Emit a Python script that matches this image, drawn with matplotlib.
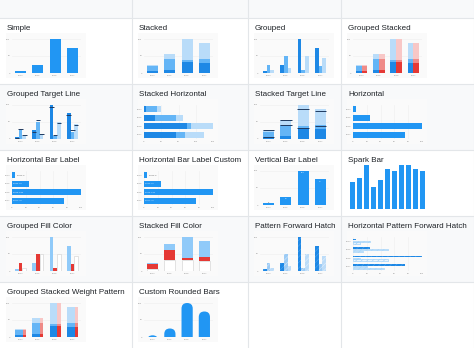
import numpy as np
import matplotlib.pyplot as plt
from matplotlib.patches import Rectangle, FancyBboxPatch
from matplotlib.lines import Line2D

plt.rcParams['font.family'] = ['Liberation Sans', 'DejaVu Sans']
plt.rcParams['hatch.linewidth'] = 0.4

W, H = 474, 348

# data
years = ['2014', '2015', '2016', '2017']
simple = [5, 25, 100, 75]
series_a = [5, 25, 100, 75]
series_b = [25, 50, 10, 20]
series_c = [10, 15, 50, 45]
fill_c = [10, 50, 50, 45]
spark = [62, 70, 100, 50, 65, 90, 87, 100, 100, 90, 86]
tgt_a = [3, 22, 95, 72]
tgt_b = [30, 55, 12, 25]
tgt_c = [12, 15, 48, 40]
stack_tgt_hi = [42, 90, 142, 131]
stack_tgt_lo = [10, 64, 52, 59]

titles = [
    ['Simple', 'Stacked', 'Grouped', 'Grouped Stacked'],
    ['Grouped Target Line', 'Stacked Horizontal', 'Stacked Target Line', 'Horizontal'],
    ['Horizontal Bar Label', 'Horizontal Bar Label Custom', 'Vertical Bar Label', 'Spark Bar'],
    ['Grouped Fill Color', 'Stacked Fill Color', 'Pattern Forward Hatch',
     'Horizontal Pattern Forward Hatch'],
    ['Grouped Stacked Weight Pattern', 'Custom Rounded Bars'],
]

# colours
BLUE = '#2196f3'
B_DARK, B_MID, B_LIGHT = '#1e88e5', '#64b5f6', '#b9dcf9'
R_DARK, R_MID, R_LIGHT = '#e53935', '#ef8a87', '#f8c7c6'
FILL_BLUE = '#90caf9'
LINE_DARK = '#1f3a60'
TICK = '#8a8a8a'

col_x = [0, 132, 248, 341, 474]
row_y = [0, 18, 84, 150, 216, 282, 348]
STRIPE = '#f8f9fa'
RULE = '#e3e6e9'

fig = plt.figure(figsize=(W / 100, H / 100), dpi=100)
fig.patch.set_facecolor('white')


def frect(x, y, w, h):
    return [x / W, 1 - (y + h) / H, w / W, h / H]


# table background + rules
for i in range(len(row_y) - 1):
    if i % 2 == 0:
        fig.add_artist(Rectangle((0, 1 - row_y[i + 1] / H), 1, (row_y[i + 1] - row_y[i]) / H,
                                 transform=fig.transFigure, fc=STRIPE, ec='none', zorder=-3))
for y in row_y[1:-1]:
    fig.add_artist(Line2D([0, 1], [1 - y / H] * 2, transform=fig.transFigure,
                          color=RULE, lw=0.8, zorder=-2))
for x in col_x[1:-1] + [473.5]:
    fig.add_artist(Line2D([x / W] * 2, [0, 1], transform=fig.transFigure,
                          color=RULE, lw=0.8, zorder=-2))


def style(ax):
    ax.patch.set_alpha(0)
    for s in ax.spines.values():
        s.set_visible(False)
    ax.tick_params(length=0, pad=1.2, labelsize=1.7, labelcolor=TICK)
    ax.set_axisbelow(True)


def thumb(r, c, horizontal=False, vmax=100, nticks=3):
    x0 = col_x[c] + 6
    y0 = row_y[r + 1] + 15
    fig.add_artist(Rectangle((x0 / W, 1 - (y0 + 45) / H), 80 / W, 45 / H,
                             transform=fig.transFigure, fc='#fafafa', ec='none', zorder=-1))
    ax = fig.add_axes(frect(x0 + 6, y0 + 6, 69, 34))
    style(ax)
    if horizontal:
        ax.set_ylim(3.5, -0.5)
        ax.set_xlim(0, vmax)
        ax.set_xticks(np.linspace(0, vmax, nticks))
        ax.set_xticklabels([f'{v:g}' for v in np.linspace(0, vmax, nticks)])
        ax.set_yticks(range(4))
        ax.set_yticklabels(years)
        ax.grid(axis='x', color='#eeeeee', lw=0.4)
    else:
        ax.set_xlim(-0.5, 3.5)
        ax.set_ylim(0, vmax)
        ax.set_yticks(np.linspace(0, vmax, nticks))
        ax.set_yticklabels([f'{v:g}' for v in np.linspace(0, vmax, nticks)])
        ax.set_xticks(range(4))
        ax.set_xticklabels(years)
        ax.grid(axis='y', color='#eeeeee', lw=0.4)
        ax.axhline(0, color='#dddddd', lw=0.5)
    return ax


for r, row in enumerate(titles):
    for c, t in enumerate(row):
        fig.text((col_x[c] + 7) / W, 1 - (row_y[r + 1] + 10) / H, t,
                 fontsize=5.8, color='#1f2328', va='center', ha='left')

x = np.arange(4)
gw = 0.65 / 3

# Simple
ax = thumb(0, 0)
ax.bar(x, simple, 0.65, color=BLUE)

# Stacked (series_c at bottom)
ax = thumb(0, 1, vmax=160)
ax.bar(x, series_c, 0.65, color=B_DARK)
ax.bar(x, series_b, 0.65, bottom=series_c, color=B_MID)
ax.bar(x, series_a, 0.65, bottom=np.add(series_c, series_b), color=B_LIGHT)

# Grouped
ax = thumb(0, 2)
for k, (vals, col) in enumerate([(series_a, B_DARK), (series_b, B_MID), (series_c, B_LIGHT)]):
    ax.bar(x + (k - 1) * gw, vals, gw, color=col)

# Grouped Stacked
ax = thumb(0, 3, vmax=160)
for off, cols in [(-0.17, (B_DARK, B_MID, B_LIGHT)), (0.17, (R_DARK, R_MID, R_LIGHT))]:
    ax.bar(x + off, series_c, 0.33, color=cols[0])
    ax.bar(x + off, series_b, 0.33, bottom=series_c, color=cols[1])
    ax.bar(x + off, series_a, 0.33, bottom=np.add(series_c, series_b), color=cols[2])

# Grouped Target Line
ax = thumb(1, 0)
for k, (vals, tg, col) in enumerate([(series_a, tgt_a, B_DARK), (series_b, tgt_b, B_MID),
                                      (series_c, tgt_c, B_LIGHT)]):
    xs = x + (k - 1) * gw
    ax.bar(xs, vals, gw, color=col)
    ax.hlines(tg, xs - gw * 0.6, xs + gw * 0.6, color=LINE_DARK, lw=0.7)

# Stacked Horizontal
ax = thumb(1, 1, horizontal=True, vmax=160, nticks=5)
ax.barh(x, series_a, 0.65, color=B_DARK)
ax.barh(x, series_b, 0.65, left=series_a, color=B_MID)
ax.barh(x, series_c, 0.65, left=np.add(series_a, series_b), color=B_LIGHT)

# Stacked Target Line
ax = thumb(1, 2, vmax=160)
ax.bar(x, series_c, 0.65, color=B_DARK)
ax.bar(x, series_b, 0.65, bottom=series_c, color=B_MID)
ax.bar(x, series_a, 0.65, bottom=np.add(series_c, series_b), color=B_LIGHT)
ax.hlines(stack_tgt_hi, x - 0.33, x + 0.33, color=LINE_DARK, lw=0.7)
ax.hlines(stack_tgt_lo, x - 0.33, x + 0.33, color=LINE_DARK, lw=0.7)

# Horizontal
ax = thumb(1, 3, horizontal=True, nticks=6)
ax.barh(x, simple, 0.65, color=BLUE)

# Horizontal Bar Label
for c, inside_col in [(0, 'white'), (1, '#e3f2fd')]:
    ax = thumb(2, c, horizontal=True, nticks=6)
    ax.barh(x, simple, 0.65, color=BLUE)
    for i, v in enumerate(simple):
        if v >= 20:
            ax.text(2, i, f'{years[i]}: {v}', fontsize=1.6, color=inside_col, va='center')
        else:
            ax.text(v + 2, i, f'{years[i]}: {v}', fontsize=1.6, color='#555555', va='center')

# Vertical Bar Label
ax = thumb(2, 2)
ax.bar(x, simple, 0.65, color=BLUE)
for i, v in enumerate(simple):
    if v >= 20:
        ax.text(i, v - 3, f'{v}', fontsize=1.6, color='white', ha='center', va='top')
    else:
        ax.text(i, v + 2, f'{v}', fontsize=1.6, color='#555555', ha='center', va='bottom')

# Spark Bar
ax = fig.add_axes(frect(col_x[3] + 8, row_y[3] + 15, 77, 44))
ax.set_axis_off()
ax.bar(np.arange(len(spark)), spark, 0.62, color=BLUE)
ax.set_xlim(-0.5, len(spark) - 0.5)
ax.set_ylim(0, 100)

# Grouped Fill Color
ax = thumb(3, 0)
ax.bar(x - gw, series_a, gw, color=FILL_BLUE)
ax.bar(x, series_b, gw, color=R_DARK)
ax.bar(x + gw, fill_c, gw, facecolor='white', edgecolor='#cfcfcf', lw=0.4)

# Stacked Fill Color
ax = thumb(3, 1, vmax=160)
ax.bar(x, fill_c, 0.65, facecolor='white', edgecolor='#cfcfcf', lw=0.4)
ax.bar(x, series_b, 0.65, bottom=fill_c, color=R_DARK)
ax.bar(x, series_a, 0.65, bottom=np.add(fill_c, series_b), color=FILL_BLUE)

# Pattern Forward Hatch
ax = thumb(3, 2)
for k, (vals, fc, hc) in enumerate([(series_a, B_DARK, '#4da3ef'), (series_b, '#9ccbf5', '#d4e9fb'),
                                     (series_c, '#bcdcf8', '#e3f0fc')]):
    ax.bar(x + (k - 1) * gw, vals, gw, facecolor=fc, edgecolor=hc, lw=0, hatch='//////')

# Horizontal Pattern Forward Hatch
ax = thumb(3, 3, horizontal=True, nticks=6)
ax.barh(x - gw, series_a, gw * 0.8, facecolor=B_DARK, edgecolor='#4da3ef', lw=0, hatch='//////')
ax.barh(x, series_b, gw * 0.8, facecolor='#e8f3fd', edgecolor='#90caf9', lw=0.4, hatch='//////')
ax.barh(x + gw, series_c, gw * 0.8, facecolor='#e8f3fd', edgecolor='#90caf9', lw=0.4, hatch='//////')

# Grouped Stacked Weight Pattern
ax = thumb(4, 0, vmax=160)
for off, wd, cols in [(-0.1, 0.45, (B_DARK, B_MID, B_LIGHT)), (0.225, 0.2, (R_DARK, R_MID, R_LIGHT))]:
    ax.bar(x + off, series_c, wd, color=cols[0])
    ax.bar(x + off, series_b, wd, bottom=series_c, color=cols[1])
    ax.bar(x + off, series_a, wd, bottom=np.add(series_c, series_b), color=cols[2])

# Custom Rounded Bars
ax = thumb(4, 1)
bb = ax.get_position()
sx = bb.width * W / 4
sy = bb.height * H / 100
aspect = sx / sy
half = 0.325
for i, v in enumerate(simple):
    ry = half * aspect
    p = FancyBboxPatch((i - half, -2 * ry), 2 * half, v + 2 * ry,
                       boxstyle=f'round,pad=0,rounding_size={half}',
                       mutation_aspect=aspect, fc=BLUE, ec='none')
    ax.add_patch(p)
    p.set_clip_path(ax.patch)

fig.savefig('out.png', dpi=100, facecolor='white')
